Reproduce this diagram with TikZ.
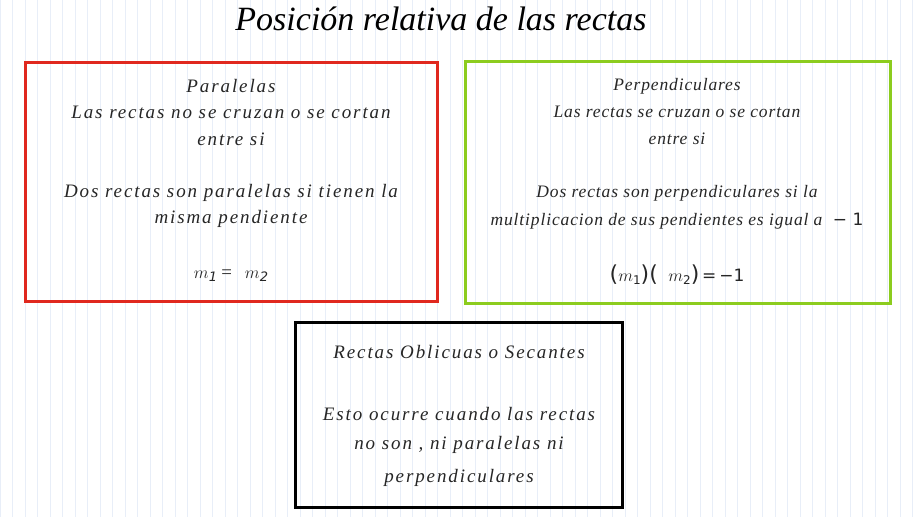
\documentclass[tikz,border=0pt]{standalone}
\usepackage{fontspec}
\setmainfont{Liberation Serif}
\newfontfamily\spc[LetterSpace=10]{Liberation Serif}
\newfontfamily\spb[LetterSpace=5]{Liberation Serif}
\newfontfamily\sn{DejaVu Sans}
\definecolor{gridc}{RGB}{232,238,248}
\definecolor{redb}{RGB}{224,40,30}
\definecolor{greenb}{RGB}{140,204,30}
\begin{document}
\begin{tikzpicture}[x=1pt,y=-1pt,
  box/.style={line width=3pt},
  t/.style={font=\spc\itshape\fontsize{19}{22}\selectfont,text=black!85,inner sep=0},
  g/.style={font=\spb\itshape\fontsize{17.5}{20}\selectfont,text=black!85,inner sep=0}]
\useasboundingbox (0,0) rectangle (920,517);
\fill[white] (0,0) rectangle (920,517);
\draw[gridc,line width=0.4pt] (0,0) grid[step=12.5] (920,517);
\node[font=\itshape\fontsize{34}{38}\selectfont,inner sep=0] (title) at (441,19) {Posición relativa de las rectas};
\draw[box,redb] (25,62) rectangle (437,301);
\draw[box,greenb] (465,61) rectangle (890,303);
\draw[box,black] (295,322) rectangle (622,507);
\node[t] (a1) at (231,86) {Paralelas};
\node[t] (a2) at (231,112) {Las rectas no se cruzan o se cortan};
\node[t] (a3) at (231,139) {entre si};
\node[t] (a4) at (231,193) {Dos rectas son paralelas si tienen la};
\node[t] (a5) at (231,219) {misma pendiente};
\node[t] (a6) at (231,276) {$m$\raisebox{-3pt}{\sn\fontsize{13}{13}\selectfont 1}\,=\; $m$\raisebox{-3pt}{\sn\fontsize{13}{13}\selectfont 2}};
\node[g] (b1) at (677,86) {Perpendiculares};
\node[g] (b2) at (677,112) {Las rectas se cruzan o se cortan};
\node[g] (b3) at (677,139) {entre si};
\node[g] (b4) at (677,193) {Dos rectas son perpendiculares si la};
\node[g] (b5) at (677,221) {multiplicacion de sus pendientes es igual a \ {\sn\upshape\fontsize{17}{17}\selectfont − 1}};
\node[g] (b6) at (677,275) {{\sn\upshape\fontsize{22}{22}\selectfont(}$m$\raisebox{-3pt}{\sn\upshape\fontsize{12}{12}\selectfont 1}{\sn\upshape\fontsize{22}{22}\selectfont)(}\ \ $m$\raisebox{-3pt}{\sn\upshape\fontsize{12}{12}\selectfont 2}{\sn\upshape\fontsize{22}{22}\selectfont)}{\sn\upshape\fontsize{17}{17}\selectfont\,=\,−1}};
\node[t] (c1) at (459,352) {Rectas Oblicuas o Secantes};
\node[t] (c2) at (459,414) {Esto ocurre cuando las rectas};
\node[t] (c3) at (459,445) {no son , ni paralelas ni};
\node[t] (c4) at (459,478) {perpendiculares};
\end{tikzpicture}
\end{document}
